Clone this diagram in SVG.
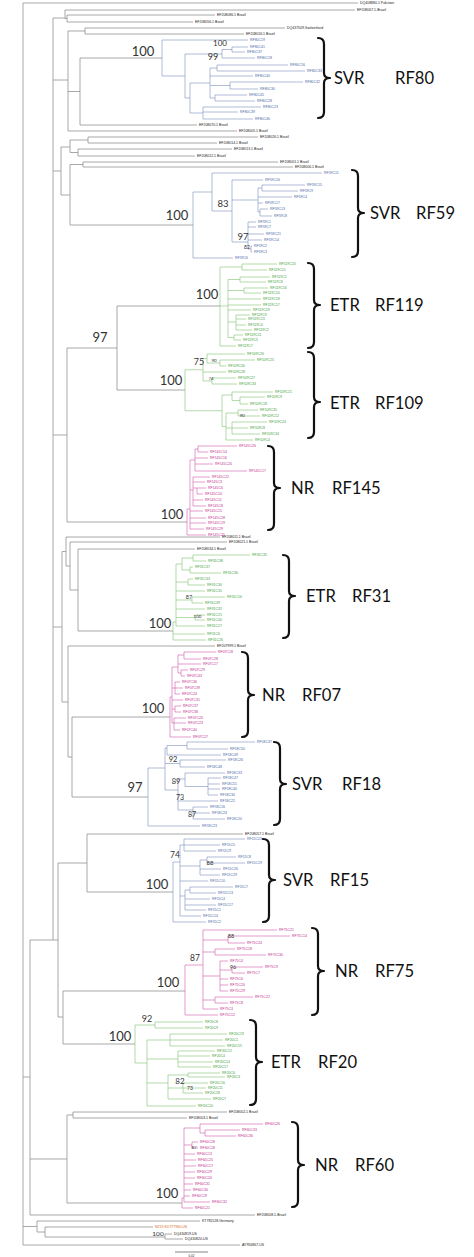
<svg xmlns="http://www.w3.org/2000/svg" width="474" height="1257" viewBox="0 0 474 1257">
<style>
.bb{fill:none;stroke:#929292;stroke-width:0.8}
.sv{fill:none;stroke:#7a8fbd;stroke-width:0.6}
.et{fill:none;stroke:#80c472;stroke-width:0.6}
.nr{fill:none;stroke:#d25aa8;stroke-width:0.6}
.br{fill:none;stroke:#111;stroke-width:2.2;stroke-linecap:round;stroke-linejoin:round}
text{font-family:"Liberation Sans",Arial,sans-serif}
.t{font-size:3.5px}
.ts{fill:#4d67a8}
.te{fill:#45a33d}
.tn{fill:#c4308f}
.tr{fill:#1a1a1a}
.to{fill:#d2691e}
.bs{font-family:Lato,"Liberation Sans",sans-serif;fill:#333;text-anchor:middle}
.cl{font-family:Lato,"Liberation Sans",sans-serif;font-size:16.6px;fill:#111}
</style>
<rect width="474" height="1257" fill="#fff"/>
<g id="connectors">
<path class="bb" d="M23 3V1245M23 3H358M53 18V940M53 18H65M65 10V18.5M65 10H355M65 18.5H67M67 15V22M67 15H215M67 22H193M53 80H68M68 31V131M68 31H85M85 28V34M85 28H285M85 34H244M68 91.5H80M80 58V125M80 58H162M80 125H197M68 131H237M53 171H61M61 147V195M61 147H70M70 140V152.5M70 140H88M88 137V143M88 137H258M88 143H217M70 152.5H78M78 149V156M78 149H232M78 156H195M61 195H70M70 164.5V225M70 164.5H83M83 162V167M83 162H278M83 167H293M70 225H193M53 435H67M67 348V522M67 348H117M117 306V390M117 306H220M117 390H185M67 522H187M53 627H62M62 551.5V702M62 551.5H66M66 537V566M66 537H220M66 566H70M70 542V590M70 542H227M70 590H78M78 549V631M78 549H195M78 631H173M62 702H68M68 646V757M68 646H215M68 757H72M72 717V797M72 717H170M72 797H148M30 940H58M58 863V1017M58 863H87M87 834V892M87 834H243M87 892H173M58 1017H63M63 991V1044M63 991H185M63 1044H135M30 940V1215M23 1077H30M30 1159H67M67 1115V1203M67 1115H73M73 1112V1118M73 1112H227M73 1118H187M67 1203H182M30 1215H255M23 1226.5H37M37 1221V1232M37 1221H200M37 1232H45M45 1227V1237M45 1227H153M45 1237H165M165 1234V1239M165 1234H172M165 1239H183M23 1245H240"/>
<path d="M175 1252H208" stroke="#333" stroke-width="0.6"/>
</g>
<g id="reference-leaves" class="t tr">
<text x="360" y="4.2">DQ408880.1 Pakistan</text>
<text x="357" y="11.2">EF208067.1-Brazil</text>
<text x="217" y="16.2">EF208086.1 Brazil</text>
<text x="195" y="23.2">EF208056.1 Brazil</text>
<text x="287" y="29.2">DQ437509-Switzerland</text>
<text x="246" y="35.2">EF208016.1 Brazil</text>
<text x="199" y="126.2">EF208070.1 Brazil</text>
<text x="239" y="132.2">EF208005.1 Brazil</text>
<text x="260" y="138.2">EF208026.1 Brazil</text>
<text x="219" y="144.2">EF208014.1 Brazil</text>
<text x="234" y="150.2">EF208013.1 Brazil</text>
<text x="197" y="157.2">EF208012.1 Brazil</text>
<text x="280" y="163.2">EF208001.1 Brazil</text>
<text x="295" y="168.2">EF208006.1 Brazil</text>
<text x="222" y="538.2">EF208011.1 Brazil</text>
<text x="229" y="543.2">EF208021.1 Brazil</text>
<text x="197" y="550.2">EF208034.1 Brazil</text>
<text x="217" y="647.2">EF207999.1 Brazil</text>
<text x="245" y="835.2">EF208057.1 Brazil</text>
<text x="229" y="1113.2">EF208002.1 Brazil</text>
<text x="189" y="1119.2">EF208003.1 Brazil</text>
<text x="257" y="1216.2">EF208008.1-Brazil</text>
<text x="202" y="1222.2">KT781528-Germany</text>
<text x="155" y="1228.2" class="to">NZ13 KU777960-US</text>
<text x="174" y="1235.2">DQ430819-US</text>
<text x="185" y="1240.2">DQ430820-US</text>
<text x="242" y="1246.2">AY956867-US</text>
<text x="191.5" y="1256.5" text-anchor="middle" font-size="3">0.02</text>
<text class="bs" x="158" y="1236" font-size="6.5">100</text>
</g>
<g id="clade-RF80">
<path class="sv" d="M162 40V76M162 40H248M162 76H185M185 54V98M185 54H222M222 49.5V58M222 49.5H232M232 47V52M232 47H248M232 52H245M222 58H255M185 98H190M190 83V113M190 83H210M210 68V98M210 68H217M217 65V71M217 65H288M217 71H305M210 76H253M210 85.5H230M230 82V89M230 82H303M230 89H258M210 98H215M215 95V101M215 95H247M215 101H255M190 113H203M203 107V119M203 107H261M203 112H238M203 119H253"/>
<g class="t ts">
<text x="250" y="41.2">RF80C19</text><text x="250" y="48.2">RF80C41</text><text x="247" y="53.2">RF80C37</text><text x="257" y="59.2">RF80C18</text><text x="290" y="66.2">RF80C16</text><text x="307" y="72.2">RF80C33</text><text x="255" y="77.2">RF80C40</text><text x="305" y="83.2">RF80C32</text><text x="260" y="90.2">RF80C30</text><text x="249" y="96.2">RF80C45</text><text x="257" y="102.2">RF80C28</text><text x="263" y="108.2">RF80C23</text><text x="240" y="113.2">RF80C39</text><text x="255" y="120.2">RF80C46</text>
</g>
<text class="bs" x="143" y="56" font-size="13">100</text>
<text class="bs" x="220" y="46" font-size="8">100</text>
<text class="bs" x="213" y="60" font-size="9">99</text>
<path class="br" d="M318 38Q324 38 324 44V73Q324 78 330 78Q324 78 324 83V112Q324 118 318 118"/>
<text class="cl" x="334" y="84">SVR</text><text class="cl" x="395" y="84">RF80</text>
</g>
<g id="clade-RF59">
<path class="sv" d="M193 192V258M193 192H212M212 173V211M212 173H322M212 211H232M232 180V242M232 180H263M232 200H258M258 188V212M258 188H262M262 185V191M262 185H305M262 191H298M258 197H292M258 203H263M258 212H260M260 209V216M260 209H268M260 216H272M232 242H248M248 222V249M248 222H256M248 227H256M248 234H264M248 240H262M248 249H251M251 246V252M251 246H252M251 252H252M193 258H233"/>
<g class="t ts">
<text x="324" y="174.2">RF59C11</text><text x="265" y="181.2">RF59C16</text><text x="307" y="186.2">RF59C15</text><text x="300" y="192.2">RF59C9</text><text x="294" y="198.2">RF59C4</text><text x="265" y="204.2">RF59C17</text><text x="270" y="210.2">RF59C13</text><text x="274" y="217.2">RF59C8</text><text x="258" y="223.2">RF59C1</text><text x="258" y="228.2">RF59C7</text><text x="266" y="235.2">RF59C21</text><text x="264" y="241.2">RF59C14</text><text x="254" y="247.2">RF59C2</text><text x="254" y="253.2">RF59C3</text><text x="235" y="259.2">RF59C6</text>
</g>
<text class="bs" x="177" y="220" font-size="13">100</text>
<text class="bs" x="223" y="207" font-size="9.5">83</text>
<text class="bs" x="243" y="240" font-size="9.5">97</text>
<text class="bs" x="247" y="249" font-size="5">82</text>
<path class="br" d="M352 170Q358 170 358 176V208Q358 213 364 213Q358 213 358 218V251Q358 257 352 257"/>
<text class="cl" x="370" y="219">SVR</text><text class="cl" x="416" y="219">RF59</text>
</g>
<g id="clade-RF119">
<path class="et" d="M220 267V346M220 267H242M242 264V270M242 264H277M242 270H267M220 306H228M228 279.5V337.5M228 279.5H240M240 277V282M240 277H270M240 282H266M228 290.5H244M244 288V293M244 288H268M244 293H261M228 299H261M228 305H261M228 310H251M228 322H236M236 315V330M236 315H250M236 319H246M236 325H246M236 330H252M228 337.5H234M234 335V340M234 335H243M234 340H241M220 346H236"/>
<g class="t te">
<text x="279" y="265.2">RF119C20</text><text x="269" y="271.2">RF119C15</text><text x="272" y="278.2">RF119C1</text><text x="268" y="283.2">RF119C8</text><text x="270" y="289.2">RF119C16</text><text x="263" y="294.2">RF119C14</text><text x="263" y="300.2">RF119C18</text><text x="263" y="306.2">RF119C17</text><text x="253" y="311.2">RF119C19</text><text x="252" y="316.2">RF119C9</text><text x="248" y="320.2">RF119C13</text><text x="248" y="326.2">RF119C4</text><text x="254" y="331.2">RF119C2</text><text x="245" y="336.2">RF119C11</text><text x="243" y="341.2">RF119C3</text><text x="238" y="347.2">RF119C7</text>
</g>
<text class="bs" x="207" y="299" font-size="13">100</text>
<text class="bs" x="100" y="342" font-size="13">97</text>
<path class="br" d="M308 263Q314 263 314 269V300Q314 305 320 305Q314 305 314 310V342Q314 348 308 348"/>
<text class="cl" x="330" y="311">ETR</text><text class="cl" x="375" y="311">RF119</text>
</g>
<g id="clade-RF109">
<path class="et" d="M185 369.75V410.75M185 369.75H203M203 358.5V381M203 358.5H207M207 354V363M207 354H245M207 363H220M220 360V366M220 360H255M220 366H226M203 372H226M203 381H212M212 378V384M212 378H236M212 384H237M185 410.75H222M222 395V426.5M222 395H232M232 392V400.5M232 392H273M232 400.5H240M240 397V404M240 397H265M240 404H248M222 426.5H226M226 413V440M226 413H238M238 410V416M238 410H258M238 416H260M226 428H232M232 422V434M232 422H267M232 428H248M232 434H260M226 440H253"/>
<g class="t te">
<text x="247" y="355.2">RF109C26</text><text x="257" y="361.2">RF109C25</text><text x="228" y="367.2">RF109C30</text><text x="228" y="373.2">RF109C28</text><text x="238" y="379.2">RF109C27</text><text x="239" y="385.2">RF109C33</text><text x="275" y="393.2">RF109C21</text><text x="267" y="398.2">RF109C9</text><text x="250" y="405.2">RF109C18</text><text x="260" y="411.2">RF109C35</text><text x="262" y="417.2">RF109C12</text><text x="269" y="423.2">RF109C24</text><text x="250" y="429.2">RF109C8</text><text x="262" y="435.2">RF109C34</text><text x="255" y="441.2">RF109C4</text>
</g>
<text class="bs" x="171" y="385" font-size="13">100</text>
<text class="bs" x="199" y="365" font-size="9">75</text>
<text class="bs" x="214" y="362" font-size="4.5">90</text>
<text class="bs" x="211" y="380" font-size="4.5">74</text>
<text class="bs" x="242" y="417" font-size="4.5">90</text>
<path class="br" d="M308 352Q314 352 314 358V397Q314 402 320 402Q314 402 314 407V432Q314 438 308 438"/>
<text class="cl" x="330" y="409">ETR</text><text class="cl" x="375" y="409">RF109</text>
</g>
<g id="clade-RF145">
<path class="nr" d="M187 509V535M187 535H206M187 509H190M190 460V529M190 460H195M195 449V471M195 449H198M198 446V452M198 446H237M198 452H208M195 458H208M195 464H213M195 471H247M190 490H193M193 477V506M193 477H210M193 482H205M193 488H197M197 488V494M197 488H206M197 494H203M193 500H203M193 506H206M190 511H203M190 518H206M190 523H206M190 529H204"/>
<g class="t tn">
<text x="239" y="447.2">RF145C26</text><text x="210" y="453.2">RF145C14</text><text x="210" y="459.2">RF145C16</text><text x="215" y="465.2">RF145C20</text><text x="249" y="472.2">RF145C17</text><text x="212" y="478.2">RF145C22</text><text x="207" y="483.2">RF145C3</text><text x="208" y="489.2">RF145C6</text><text x="205" y="495.2">RF145C10</text><text x="205" y="501.2">RF145C11</text><text x="208" y="507.2">RF145C8</text><text x="205" y="512.2">RF145C15</text><text x="208" y="519.2">RF145C28</text><text x="208" y="524.2">RF145C19</text><text x="206" y="530.2">RF145C29</text><text x="208" y="536.2">RF145C25</text>
</g>
<text class="bs" x="172" y="519" font-size="13">100</text>
<path class="br" d="M268 446Q274 446 274 452V483Q274 488 280 488Q274 488 274 493V524Q274 530 268 530"/>
<text class="cl" x="291" y="494">NR</text><text class="cl" x="332" y="494">RF145</text>
</g>
<g id="clade-RF31">
<path class="et" d="M173 622V640M173 622H176M173 634H205M173 640H206M176 564V626M176 564H182M182 558V570M182 558H193M193 555V561M193 555H250M193 561H206M182 570H190M190 567V573M190 567H193M190 573H221M176 582H188M188 579V585M188 579H193M188 585H205M176 591H205M176 600H192M192 597V603M192 597H225M192 603H203M176 609H205M176 617.5H195M195 615V620M195 615H205M195 620H205M176 626H205"/>
<g class="t te">
<text x="252" y="556.2">RF31C35</text><text x="208" y="562.2">RF31C38</text><text x="195" y="568.2">RF31C37</text><text x="223" y="574.2">RF31C36</text><text x="195" y="580.2">RF31C33</text><text x="207" y="586.2">RF31C30</text><text x="207" y="592.2">RF31C31</text><text x="227" y="598.2">RF31C16</text><text x="205" y="604.2">RF31C39</text><text x="207" y="610.2">RF31C32</text><text x="207" y="616.2">RF31C21</text><text x="207" y="621.2">RF31C40</text><text x="207" y="627.2">RF31C17</text><text x="207" y="635.2">RF31C6</text><text x="208" y="641.2">RF31C26</text>
</g>
<text class="bs" x="160" y="628" font-size="13">100</text>
<text class="bs" x="189" y="599" font-size="5.5">87</text>
<text class="bs" x="197.5" y="618" font-size="4.5">100</text>
<path class="br" d="M283 555Q289 555 289 561V591Q289 596 295 596Q289 596 289 601V632Q289 638 283 638"/>
<text class="cl" x="306" y="602">ETR</text><text class="cl" x="352" y="602">RF31</text>
</g>
<g id="clade-RF07">
<path class="nr" d="M170 697V737M170 737H191M170 697H172M172 667V723M172 667H178M178 655V673M178 655H184M184 652V659M184 652H216M184 659H201M178 664H201M178 673H181M181 670V676M181 670H188M181 676H185M172 688H175M175 682V694M175 682H180M175 688H183M175 694H180M172 700H183M172 709H175M175 706V712M175 706H181M175 712H181M172 723H174M174 718V730M174 718H186M174 723H186M174 730H180"/>
<g class="t tn">
<text x="218" y="653.2">RF07C18</text><text x="203" y="660.2">RF07C28</text><text x="203" y="665.2">RF07C17</text><text x="190" y="671.2">RF07C29</text><text x="187" y="677.2">RF07C43</text><text x="182" y="683.2">RF07C36</text><text x="185" y="689.2">RF07C39</text><text x="182" y="695.2">RF07C24</text><text x="185" y="701.2">RF07C31</text><text x="183" y="707.2">RF07C37</text><text x="183" y="713.2">RF07C38</text><text x="188" y="719.2">RF07C20</text><text x="188" y="724.2">RF07C23</text><text x="182" y="731.2">RF07C40</text><text x="193" y="738.2">RF07C27</text>
</g>
<text class="bs" x="153" y="713" font-size="13">100</text>
<path class="br" d="M242 652Q248 652 248 658V690Q248 695 254 695Q248 695 248 700V731Q248 737 242 737"/>
<text class="cl" x="262" y="701">NR</text><text class="cl" x="302" y="701">RF07</text>
</g>
<g id="clade-RF18">
<path class="sv" d="M148 768V826M148 826H200M148 768H165M165 748V790M165 748H167M167 745.5V755M167 745.5H187M187 742V749M187 742H255M187 749H228M167 755H221M165 763.5H180M180 760V767M180 760H226M180 767H205M165 790H178M178 779V810M178 779H185M185 773V786.5M185 773H225M185 786.5H208M208 778V795M208 778H221M208 784H220M208 789H220M208 795H218M178 801H218M178 810H193M193 807V819M193 807H208M193 813H210M193 819H225"/>
<g class="t ts">
<text x="257" y="743.2">RF18C37</text><text x="230" y="750.2">RF18C50</text><text x="223" y="756.2">RF18C49</text><text x="228" y="761.2">RF18C26</text><text x="207" y="768.2">RF18C48</text><text x="227" y="774.2">RF18C33</text><text x="223" y="779.2">RF18C47</text><text x="222" y="785.2">RF18C51</text><text x="222" y="790.2">RF18C40</text><text x="220" y="796.2">RF18C30</text><text x="220" y="802.2">RF18C22</text><text x="210" y="808.2">RF18C16</text><text x="212" y="814.2">RF18C24</text><text x="227" y="820.2">RF18C20</text><text x="202" y="827.2">RF18C23</text>
</g>
<text class="bs" x="135" y="792" font-size="13">97</text>
<text class="bs" x="173" y="762" font-size="7.5">92</text>
<text class="bs" x="176" y="784" font-size="7.5">89</text>
<text class="bs" x="180" y="800" font-size="7">73</text>
<text class="bs" x="192" y="817" font-size="7">87</text>
<path class="br" d="M274 742Q280 742 280 748V779Q280 784 286 784Q280 784 280 789V819Q280 825 274 825"/>
<text class="cl" x="292" y="790">SVR</text><text class="cl" x="342" y="790">RF18</text>
</g>
<g id="clade-RF15">
<path class="sv" d="M173 862V922M173 922H206M173 862H180M180 845V916M180 845H184M184 839V851M184 839H245M184 845H220M184 851H216M180 866H200M200 860V875M200 860H207M207 857V863M207 857H236M207 863H245M200 869H221M200 875H220M180 881H208M180 896H185M185 890V910M185 890H190M190 887V893M190 887H233M190 893H216M185 899H210M185 905H216M185 910H206M180 916H201"/>
<g class="t ts">
<text x="247" y="840.2">RF15C23</text><text x="222" y="846.2">RF15C5</text><text x="218" y="852.2">RF15C9</text><text x="238" y="858.2">RF15C8</text><text x="247" y="864.2">RF15C19</text><text x="223" y="870.2">RF15C26</text><text x="222" y="876.2">RF15C29</text><text x="210" y="882.2">RF15C10</text><text x="235" y="888.2">RF15C7</text><text x="218" y="894.2">RF15C13</text><text x="212" y="900.2">RF15C4</text><text x="218" y="906.2">RF15C17</text><text x="208" y="911.2">RF15C1</text><text x="203" y="917.2">RF15C14</text><text x="208" y="923.2">RF15C2</text>
</g>
<text class="bs" x="157" y="889" font-size="13">100</text>
<text class="bs" x="175" y="858" font-size="8.5">74</text>
<text class="bs" x="210" y="865" font-size="6">88</text>
<path class="br" d="M263 839Q269 839 269 845V875Q269 880 275 880Q269 880 269 885V916Q269 922 263 922"/>
<text class="cl" x="283" y="886">SVR</text><text class="cl" x="330" y="886">RF15</text>
</g>
<g id="clade-RF75">
<path class="nr" d="M185 965V1015M185 1015H218M185 965H203M203 930V1009M203 930H277M203 940H228M228 936V943M228 936H290M228 943H245M203 952H215M215 949V955M215 949H235M215 955H266M203 976H220M220 961V991M220 961H228M220 970H232M232 967V973M232 967H263M232 973H245M220 979H228M220 985H228M220 991H228M203 1000H215M215 997V1003M215 997H253M215 1003H228M203 1009H218"/>
<g class="t tn">
<text x="279" y="931.2">RF75C21</text><text x="292" y="937.2">RF75C14</text><text x="247" y="944.2">RF75C24</text><text x="237" y="950.2">RF75C18</text><text x="268" y="956.2">RF75C30</text><text x="230" y="962.2">RF75C4</text><text x="265" y="968.2">RF75C9</text><text x="247" y="974.2">RF75C7</text><text x="230" y="980.2">RF75C6</text><text x="230" y="986.2">RF75C20</text><text x="230" y="992.2">RF75C29</text><text x="255" y="998.2">RF75C22</text><text x="230" y="1004.2">RF75C8</text><text x="220" y="1010.2">RF75C3</text><text x="220" y="1016.2">RF75C12</text>
</g>
<text class="bs" x="168" y="987" font-size="13">100</text>
<text class="bs" x="195" y="961" font-size="8.5">87</text>
<text class="bs" x="231" y="938" font-size="5.5">88</text>
<text class="bs" x="233" y="969" font-size="5.5">96</text>
<path class="br" d="M312 928Q318 928 318 934V966Q318 971 324 971Q318 971 318 976V1009Q318 1015 312 1015"/>
<text class="cl" x="335" y="977">NR</text><text class="cl" x="375" y="977">RF75</text>
</g>
<g id="clade-RF20">
<path class="et" d="M135 1025V1063M135 1025H155M155 1022V1028M155 1022H203M155 1028H203M135 1063H147M147 1040V1106M147 1040H170M170 1034V1046M170 1034H227M170 1040H223M170 1046H225M147 1059H178M178 1051V1067M178 1051H215M178 1056H210M178 1062H213M178 1067H211M147 1083H168M168 1075V1099M168 1075H188M188 1073V1077M188 1073H220M188 1077H225M168 1088H183M183 1083V1093M183 1083H208M183 1088H206M183 1093H203M168 1099H211M147 1106H196"/>
<g class="t te">
<text x="205" y="1023.2">RF20C8</text><text x="205" y="1029.2">RF20C9</text><text x="229" y="1035.2">RF20C19</text><text x="225" y="1041.2">RF20C1</text><text x="227" y="1047.2">RF20C15</text><text x="217" y="1052.2">RF20C12</text><text x="212" y="1057.2">RF20C4</text><text x="215" y="1063.2">RF20C14</text><text x="213" y="1068.2">RF20C17</text><text x="222" y="1074.2">RF20C6</text><text x="227" y="1078.2">RF20C3</text><text x="210" y="1084.2">RF20C16</text><text x="208" y="1089.2">RF20C11</text><text x="205" y="1094.2">RF20C18</text><text x="213" y="1100.2">RF20C7</text><text x="198" y="1107.2">RF20C10</text>
</g>
<text class="bs" x="120" y="1041" font-size="13">100</text>
<text class="bs" x="147" y="1022" font-size="9">92</text>
<text class="bs" x="180" y="1084" font-size="8">82</text>
<text class="bs" x="190" y="1090" font-size="5">73</text>
<path class="br" d="M250 1020Q256 1020 256 1026V1057Q256 1062 262 1062Q256 1062 256 1067V1099Q256 1105 250 1105"/>
<text class="cl" x="271" y="1068">ETR</text><text class="cl" x="318" y="1068">RF20</text>
</g>
<g id="clade-RF60">
<path class="nr" d="M182 1198V1208M182 1208H193M182 1198H184M184 1128V1202M184 1128H200M200 1124V1133M200 1124H263M200 1133H205M205 1130V1136M205 1130H240M205 1136H236M184 1145H192M192 1142V1148M192 1142H198M192 1148H198M184 1154H195M184 1160H196M184 1166H196M184 1172H195M184 1178H195M184 1184H193M184 1190H191M184 1196H190M184 1202H210"/>
<g class="t tn">
<text x="265" y="1125.2">RF60C26</text><text x="242" y="1131.2">RF60C33</text><text x="238" y="1137.2">RF60C36</text><text x="200" y="1143.2">RF60C28</text><text x="200" y="1149.2">RF60C18</text><text x="197" y="1155.2">RF60C13</text><text x="198" y="1161.2">RF60C25</text><text x="198" y="1167.2">RF60C17</text><text x="197" y="1173.2">RF60C29</text><text x="197" y="1179.2">RF60C20</text><text x="195" y="1185.2">RF60C31</text><text x="193" y="1191.2">RF60C30</text><text x="192" y="1197.2">RF60C19</text><text x="212" y="1203.2">RF60C32</text><text x="195" y="1209.2">RF60C21</text>
</g>
<text class="bs" x="167" y="1198" font-size="13">100</text>
<text class="bs" x="194" y="1149" font-size="4.5">87</text>
<path class="br" d="M292 1122Q298 1122 298 1128V1160Q298 1165 304 1165Q298 1165 298 1170V1201Q298 1207 292 1207"/>
<text class="cl" x="315" y="1171">NR</text><text class="cl" x="355" y="1171">RF60</text>
</g>
</svg>
